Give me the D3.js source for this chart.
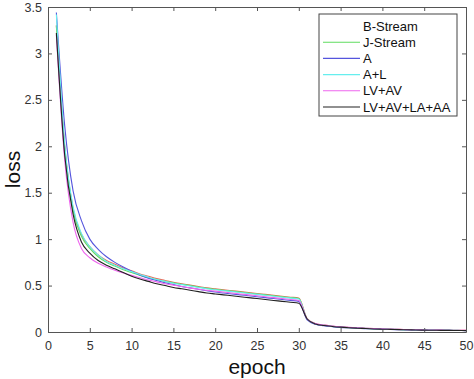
<!DOCTYPE html>
<html><head><meta charset="utf-8">
<script src="https://cdn.jsdelivr.net/npm/d3@7"></script>
<style>body{margin:0;background:#fff}svg{display:block}text{font-family:"Liberation Sans",Arial,sans-serif}</style>
</head><body><svg id="c" width="474" height="379"></svg>
<script>
const epochs = d3.range(1, 51);
const seriesNames = ["B-Stream", "J-Stream", "A", "A+L", "LV+AV", "LV+AV+LA+AA"];
const seriesColors = ["#e86a5a", "#5fdc5f", "#5555dd", "#66eeee", "#ee66ee", "#222222"];
const bStream = [3.30, 2.00, 1.33, 1.05, 0.92, 0.83, 0.77, 0.73, 0.69, 0.66, 0.625, 0.60, 0.575, 0.555, 0.535, 0.52, 0.505, 0.49, 0.475, 0.465, 0.455, 0.445, 0.435, 0.425, 0.415, 0.405, 0.395, 0.385, 0.375, 0.365,
  0.145, 0.09, 0.074, 0.064, 0.055, 0.049, 0.044, 0.04, 0.036, 0.033, 0.030, 0.028, 0.026, 0.024, 0.022, 0.021, 0.020, 0.019, 0.018, 0.017];
const jStream = [3.30, 1.98, 1.31, 1.03, 0.90, 0.81, 0.75, 0.71, 0.67, 0.64, 0.61, 0.585, 0.565, 0.545, 0.53, 0.515, 0.50, 0.485, 0.47, 0.46, 0.45, 0.44, 0.43, 0.42, 0.41, 0.40, 0.39, 0.38, 0.37, 0.36,
  0.14, 0.087, 0.071, 0.061, 0.053, 0.047, 0.042, 0.038, 0.035, 0.032, 0.029, 0.027, 0.025, 0.023, 0.021, 0.020, 0.019, 0.018, 0.017, 0.016];
const aSeries = [3.44, 2.22, 1.52, 1.20, 1.00, 0.89, 0.81, 0.75, 0.70, 0.655, 0.615, 0.58, 0.555, 0.53, 0.51, 0.49, 0.475, 0.46, 0.445, 0.43, 0.42, 0.41, 0.40, 0.39, 0.38, 0.37, 0.36, 0.35, 0.34, 0.33,
  0.13, 0.083, 0.068, 0.058, 0.05, 0.045, 0.04, 0.036, 0.033, 0.03, 0.027, 0.025, 0.023, 0.021, 0.020, 0.019, 0.018, 0.017, 0.016, 0.015];
const alSeries = [3.42, 2.02, 1.35, 1.06, 0.92, 0.83, 0.76, 0.72, 0.68, 0.65, 0.62, 0.59, 0.565, 0.545, 0.525, 0.51, 0.495, 0.48, 0.465, 0.455, 0.445, 0.435, 0.425, 0.415, 0.405, 0.395, 0.385, 0.375, 0.365, 0.355,
  0.14, 0.088, 0.072, 0.062, 0.054, 0.048, 0.043, 0.039, 0.035, 0.032, 0.029, 0.027, 0.025, 0.023, 0.021, 0.020, 0.019, 0.018, 0.017, 0.016];
const lvav = [3.20, 1.85, 1.18, 0.90, 0.80, 0.74, 0.70, 0.665, 0.635, 0.61, 0.585, 0.56, 0.54, 0.52, 0.505, 0.49, 0.475, 0.46, 0.45, 0.44, 0.43, 0.42, 0.41, 0.40, 0.39, 0.38, 0.37, 0.36, 0.35, 0.34,
  0.14, 0.09, 0.074, 0.064, 0.056, 0.05, 0.045, 0.041, 0.037, 0.034, 0.031, 0.028, 0.026, 0.024, 0.022, 0.021, 0.020, 0.019, 0.018, 0.017];
const lvavlaaa = [3.22, 1.90, 1.27, 0.97, 0.85, 0.77, 0.72, 0.68, 0.64, 0.60, 0.57, 0.545, 0.52, 0.50, 0.48, 0.465, 0.45, 0.435, 0.42, 0.41, 0.40, 0.39, 0.38, 0.37, 0.36, 0.35, 0.34, 0.33, 0.32, 0.31,
  0.14, 0.086, 0.07, 0.06, 0.052, 0.046, 0.041, 0.037, 0.033, 0.03, 0.028, 0.026, 0.024, 0.022, 0.02, 0.019, 0.018, 0.017, 0.016, 0.015];
const seriesValues = [bStream, jStream, aSeries, alSeries, lvav, lvavlaaa];
const xTicks = [0, 5, 10, 15, 20, 25, 30, 35, 40, 45, 50];
const yTicks = [0, 0.5, 1, 1.5, 2, 2.5, 3, 3.5];

const W = 474, H = 379;
const m = {l: 48, r: 8, t: 7, b: 47};
const svg = d3.select("#c");
const x = d3.scaleLinear().domain([0, 50]).range([m.l, W - m.r]);
const y = d3.scaleLinear().domain([0, 3.5]).range([H - m.b, m.t]);
const axCol = "#555";

const gx = svg.append("g").attr("transform", `translate(0,${H - m.b})`)
  .call(d3.axisBottom(x).tickValues(xTicks).tickSizeInner(-4).tickSizeOuter(0).tickPadding(9));
const gy = svg.append("g").attr("transform", `translate(${m.l},0)`)
  .call(d3.axisLeft(y).tickValues(yTicks).tickFormat(d3.format("")).tickSizeInner(-4).tickSizeOuter(0).tickPadding(6));
const gx2 = svg.append("g").attr("transform", `translate(0,${m.t})`)
  .call(d3.axisTop(x).tickValues(xTicks).tickSizeInner(-4).tickSizeOuter(0).tickFormat(""));
const gy2 = svg.append("g").attr("transform", `translate(${W - m.r},0)`)
  .call(d3.axisRight(y).tickValues(yTicks).tickSizeInner(-4).tickSizeOuter(0).tickFormat(""));
[gx, gy, gx2, gy2].forEach(g => {
  g.selectAll("path,line").attr("stroke", axCol);
  g.selectAll("text").attr("fill", "#333").style("font-size", "12.5px").style("font-family", "Liberation Sans, Arial, sans-serif");
});

const line = d3.line().x((d, i) => x(epochs[i])).y(d => y(d)).curve(d3.curveMonotoneX);
seriesValues.forEach((vals, k) => {
  svg.append("path").datum(vals).attr("d", line).attr("fill", "none")
    .attr("stroke", seriesColors[k]).attr("stroke-width", 1.1);
});

svg.append("text").attr("x", (m.l + W - m.r) / 2).attr("y", 374).attr("text-anchor", "middle")
  .attr("fill", "#111").style("font-size", "21px").text("epoch");
svg.append("text").attr("transform", `translate(20,${(m.t + H - m.b) / 2}) rotate(-90)`).attr("text-anchor", "middle")
  .attr("fill", "#111").style("font-size", "21px").text("loss");

// legend
const lg = svg.append("g");
lg.append("rect").attr("x", 319).attr("y", 14).attr("width", 138).attr("height", 102)
  .attr("fill", "#fff").attr("stroke", "#444").attr("stroke-width", 1);
seriesNames.forEach((n, k) => {
  const yy = 26 + k * 16.2;
  if (k > 0) lg.append("line").attr("x1", 323).attr("x2", 360).attr("y1", yy).attr("y2", yy)
    .attr("stroke", seriesColors[k]).attr("stroke-width", 1.1);
  lg.append("text").attr("x", 363).attr("y", yy + 4.5).attr("fill", "#111").style("font-size", "13px").text(n);
});
</script></body></html>
